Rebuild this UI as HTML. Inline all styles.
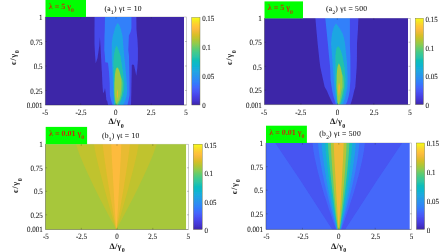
<!DOCTYPE html>
<html><head><meta charset="utf-8"><title>figure</title>
<style>html,body{margin:0;padding:0;background:#fff;overflow:hidden}body{width:448px;height:252px}svg{display:block}</style>
</head><body>
<svg width="448" height="252" viewBox="0 0 448 252" text-rendering="geometricPrecision" font-family='"Liberation Serif", serif'>
<defs>
<linearGradient id="par" x1="0" y1="0" x2="0" y2="1"><stop offset="0.00" stop-color="#f9fb15"/><stop offset="0.04" stop-color="#f6e426"/><stop offset="0.08" stop-color="#fecd32"/><stop offset="0.12" stop-color="#febe3c"/><stop offset="0.15" stop-color="#f3ba39"/><stop offset="0.20" stop-color="#d9be28"/><stop offset="0.25" stop-color="#b5c532"/><stop offset="0.30" stop-color="#8fcb4e"/><stop offset="0.35" stop-color="#63cc6e"/><stop offset="0.40" stop-color="#40ca8d"/><stop offset="0.45" stop-color="#2cc4a6"/><stop offset="0.50" stop-color="#09bdbd"/><stop offset="0.55" stop-color="#0db5d0"/><stop offset="0.60" stop-color="#1da9e0"/><stop offset="0.65" stop-color="#259be8"/><stop offset="0.70" stop-color="#2d8cf3"/><stop offset="0.75" stop-color="#327cfc"/><stop offset="0.80" stop-color="#4367fd"/><stop offset="0.85" stop-color="#4854f5"/><stop offset="0.90" stop-color="#4742e6"/><stop offset="0.95" stop-color="#4434d0"/><stop offset="1.00" stop-color="#3e26a8"/></linearGradient>
<filter id="bl" x="-5%" y="-5%" width="110%" height="110%"><feGaussianBlur stdDeviation="0.45"/></filter>
<filter id="bl2" x="-5%" y="-5%" width="110%" height="110%"><feGaussianBlur stdDeviation="0.6 0.3"/></filter>
<clipPath id="cp0"><rect x="45.4" y="17.0" width="138.6" height="88.0"/></clipPath>
<clipPath id="cp1"><rect x="264.5" y="18.3" width="143.5" height="86.3"/></clipPath>
<clipPath id="cp2"><rect x="45.5" y="144.2" width="140.6" height="85.3"/></clipPath>
<clipPath id="cp3"><rect x="266.0" y="143.0" width="143.7" height="86.4"/></clipPath>
</defs>
<rect x="0.0" y="0.0" width="448.0" height="252.0" fill="#ffffff" />
<rect x="45.4" y="17.0" width="141.2" height="88.0" fill="#ffffff" stroke="#9a9a9a" stroke-width="0.5"/>
<g clip-path="url(#cp0)"><g filter="url(#bl)">
<rect x="43.4" y="15.0" width="140.9" height="92.0" fill="#3e26a8" />
<polygon points="94.6,15.0 94.5,30.0 94.5,44.0 95.0,54.0 95.7,63.2 97.5,57.9 99.3,46.0 99.9,37.2 100.5,46.0 101.1,57.9 101.7,69.8 101.9,72.0 102.4,84.0 103.1,93.2 104.2,91.5 105.0,88.0 105.7,93.0 106.4,100.0 107.2,101.0 108.3,106.0 131.0,106.0 131.3,93.0 131.7,72.0 131.8,65.0 132.6,64.5 134.0,65.0 134.9,69.0 136.3,75.8 137.3,68.0 137.9,60.0 137.9,48.0 137.5,40.0 136.5,30.0 136.3,15.0" fill="#4549eb"/>
<polygon points="105.0,15.0 104.8,28.3 104.7,32.0 104.5,35.4 104.3,50.0 104.9,56.0 105.2,62.2 108.0,62.7 109.0,72.0 109.7,83.0 109.9,95.0 111.0,100.0 112.8,106.0 127.2,106.0 128.6,100.0 129.5,95.0 129.5,83.0 129.3,72.0 129.1,62.7 129.1,62.2 129.0,56.0 128.3,50.0 128.9,35.4 130.6,32.0 131.4,28.3 131.4,15.0" fill="#3280fa"/>
<polygon points="117.7,23.0 116.3,25.0 115.0,28.0 114.0,32.1 112.8,36.0 111.8,43.0 111.8,56.0 112.0,63.0 112.5,72.0 112.9,83.0 113.2,90.0 113.5,95.0 113.8,100.0 114.3,106.0 122.8,106.0 125.5,100.0 126.8,95.0 127.2,90.0 126.8,83.0 125.8,72.0 125.0,63.0 124.2,56.0 123.1,43.0 122.5,36.0 121.5,32.1 120.5,28.0 119.2,25.0 117.7,23.0" fill="#1ea6e2"/>
<polygon points="116.6,45.6 115.4,48.0 114.5,52.0 113.8,56.0 113.4,63.0 113.6,72.0 114.0,83.0 114.0,90.0 114.1,95.0 114.3,100.0 114.7,106.0 118.5,106.0 121.5,100.0 123.1,95.0 124.2,90.0 124.4,83.0 123.0,72.0 121.5,63.0 120.5,56.0 119.2,52.0 117.8,48.0 116.6,45.6" fill="#23c1aa"/>
<polygon points="119.5,74.0 115.5,79.0 114.5,83.0 114.4,90.0 114.5,95.0 114.9,100.0 116.0,105.5 117.3,105.5 120.3,100.0 121.7,95.0 122.5,90.0 122.7,83.0 122.0,79.0 119.5,74.0" fill="#5fcb76"/>
<polygon points="117.2,67.3 116.3,68.5 115.7,70.0 115.0,74.0 114.7,79.0 114.6,83.0 114.6,90.0 114.8,95.0 115.3,100.0 116.1,104.2 116.3,104.2 119.2,100.0 120.4,95.0 121.0,90.0 121.4,83.0 121.1,79.0 120.2,74.0 119.0,70.0 118.2,68.5 117.2,67.3" fill="#a0ca42"/>
<polygon points="117.4,89.0 116.9,92.0 116.9,96.0 117.4,99.0 117.9,96.0 118.0,92.0" fill="#e8b82d"/>
</g></g>
<rect x="264.5" y="18.3" width="145.7" height="86.3" fill="#ffffff" stroke="#9a9a9a" stroke-width="0.5"/>
<g clip-path="url(#cp1)"><g filter="url(#bl)">
<rect x="262.5" y="16.3" width="145.8" height="90.3" fill="#3e26a8" />
<polygon points="315.2,16.0 315.4,18.3 316.4,30.0 317.7,44.0 319.4,60.0 320.3,67.0 323.1,80.0 324.7,87.0 326.9,90.7 329.1,96.0 331.7,101.4 334.2,106.0 349.9,106.0 351.5,101.4 353.0,96.0 354.2,90.7 355.3,87.0 355.8,80.0 356.7,67.0 356.9,60.0 357.0,44.0 357.9,30.0 358.4,18.3 358.7,16.0" fill="#4549eb"/>
<polygon points="325.1,16.0 325.3,18.3 327.9,44.0 329.0,56.0 330.1,67.0 330.6,80.0 331.7,87.0 332.2,90.7 333.4,96.0 334.9,101.4 336.4,106.0 345.0,106.0 347.2,101.4 348.7,96.0 349.7,90.7 349.9,87.0 350.4,80.0 350.4,67.0 350.3,56.0 349.9,44.0 349.9,18.3 349.9,16.0" fill="#3280fa"/>
<polygon points="336.0,23.4 334.4,26.0 333.5,28.0 332.2,33.1 331.5,38.0 331.1,44.0 332.4,60.0 332.8,67.0 333.8,80.0 334.4,87.0 334.6,90.7 335.4,96.0 336.5,101.4 337.5,106.0 342.3,106.0 344.0,101.4 345.6,96.0 346.7,90.7 347.4,87.0 347.7,80.0 347.2,67.0 346.7,60.0 345.1,44.0 344.0,38.0 342.4,33.1 339.5,28.0 338.0,26.0 336.0,23.4" fill="#1ea6e2"/>
<polygon points="338.1,45.9 336.6,48.0 335.9,51.0 335.4,56.1 335.5,67.0 335.5,80.0 336.0,87.0 336.1,90.7 336.5,96.0 337.0,101.4 337.8,106.0 340.0,106.0 341.9,101.4 343.4,96.0 344.5,90.7 345.1,87.0 345.6,80.0 344.5,67.0 342.4,56.1 341.0,51.0 339.6,48.0 338.1,45.9" fill="#23c1aa"/>
<polygon points="340.5,70.0 337.5,76.0 336.6,82.0 336.5,87.0 336.7,90.7 337.0,96.0 337.4,101.4 338.0,105.5 339.0,105.5 340.7,101.4 342.0,96.0 343.0,90.7 343.8,87.0 343.8,82.0 343.2,76.0 340.5,70.0" fill="#5fcb76"/>
<polygon points="338.9,63.2 337.7,66.0 337.1,70.0 336.7,76.1 336.7,87.0 337.0,90.7 337.3,96.0 337.7,101.4 338.1,104.1 338.3,104.1 339.6,101.4 340.5,96.0 341.3,90.7 342.4,87.0 342.1,76.1 341.3,70.0 340.2,66.0 338.9,63.2" fill="#a0ca42"/>
<polygon points="339.0,82.5 338.3,86.0 338.2,92.0 338.9,96.3 339.7,92.0 340.2,88.0 339.9,85.0" fill="#e8b82d"/>
</g></g>
<rect x="45.5" y="144.2" width="143.1" height="85.3" fill="#ffffff" stroke="#9a9a9a" stroke-width="0.5"/>
<g clip-path="url(#cp2)"><g filter="url(#bl)">
<rect x="43.5" y="142.2" width="142.9" height="89.3" fill="#a7c73b" />
<polygon points="70.1,133.6 75.9,144.2 79.6,154.8 84.1,165.5 88.9,176.1 94.0,186.8 99.3,197.4 104.8,208.0 110.4,218.7 116.1,229.3 116.5,229.3 122.2,218.7 127.8,208.0 133.3,197.4 138.6,186.8 143.7,176.1 148.5,165.5 153.0,154.8 156.7,144.2 162.5,133.6" fill="#c0c32e"/>
<polygon points="90.7,133.6 93.9,144.2 95.9,154.8 98.4,165.5 101.1,176.1 103.9,186.8 106.8,197.4 109.8,208.0 112.9,218.7 116.1,229.3 116.5,229.3 119.7,218.7 122.8,208.0 125.8,197.4 128.7,186.8 131.5,176.1 134.2,165.5 136.7,154.8 138.7,144.2 141.9,133.6" fill="#d5bf29"/>
<polygon points="100.7,133.6 102.6,144.2 103.9,154.8 105.4,165.5 107.0,176.1 108.7,186.8 110.5,197.4 112.3,208.0 114.2,218.7 116.1,229.3 116.5,229.3 118.4,218.7 120.3,208.0 122.1,197.4 123.9,186.8 125.6,176.1 127.2,165.5 128.7,154.8 130.0,144.2 131.9,133.6" fill="#e9bb30"/>
<polygon points="110.6,133.6 111.3,144.2 111.7,154.8 112.3,165.5 112.9,176.1 113.5,186.8 114.1,197.4 114.7,208.0 115.4,218.7 116.1,229.3 116.5,229.3 117.2,218.7 117.9,208.0 118.5,197.4 119.1,186.8 119.7,176.1 120.3,165.5 120.9,154.8 121.3,144.2 122.0,133.6" fill="#fdbb3e"/>
</g></g>
<rect x="266.0" y="143.0" width="145.6" height="86.4" fill="#ffffff" stroke="#9a9a9a" stroke-width="0.5"/>
<g clip-path="url(#cp3)"><g filter="url(#bl)">
<rect x="264.0" y="141.0" width="146.0" height="90.4" fill="#4468fa" />
<polygon points="273.3,140.0 275.4,143.2 300.1,180.0 332.2,229.4 333.7,232.0 343.7,232.0 345.2,229.4 377.3,180.0 402.0,143.2 404.1,140.0" fill="#4654f2"/>
<g filter="url(#bl2)">
<polygon points="310.0,135.8 312.6,143.0 313.4,150.2 314.7,157.4 316.2,164.6 317.9,171.8 319.8,179.0 321.8,186.2 323.9,193.4 326.2,200.6 328.5,207.8 331.0,215.0 333.5,222.2 336.1,229.4 341.3,229.4 343.9,222.2 346.4,215.0 348.9,207.8 351.2,200.6 353.5,193.4 355.6,186.2 357.6,179.0 359.5,171.8 361.2,164.6 362.7,157.4 364.0,150.2 364.8,143.0 367.4,135.8" fill="#406bfb"/>
<polygon points="315.9,135.8 318.0,143.0 318.7,150.2 319.7,157.4 320.9,164.6 322.2,171.8 323.7,179.0 325.3,186.2 327.0,193.4 328.8,200.6 330.6,207.8 332.6,215.0 334.6,222.2 336.6,229.4 340.8,229.4 342.8,222.2 344.8,215.0 346.8,207.8 348.6,200.6 350.4,193.4 352.1,186.2 353.7,179.0 355.2,171.8 356.5,164.6 357.7,157.4 358.7,150.2 359.4,143.0 361.5,135.8" fill="#3086f7"/>
<polygon points="319.9,135.8 321.6,143.0 322.1,150.2 323.0,157.4 324.0,164.6 325.1,171.8 326.3,179.0 327.6,186.2 329.0,193.4 330.5,200.6 332.0,207.8 333.6,215.0 335.3,222.2 337.0,229.4 340.4,229.4 342.1,222.2 343.8,215.0 345.4,207.8 346.9,200.6 348.4,193.4 349.8,186.2 351.1,179.0 352.3,171.8 353.4,164.6 354.4,157.4 355.3,150.2 355.8,143.0 357.5,135.8" fill="#1ea5e3"/>
<polygon points="323.8,135.8 325.2,143.0 325.6,150.2 326.3,157.4 327.1,164.6 328.0,171.8 328.9,179.0 330.0,186.2 331.1,193.4 332.2,200.6 333.4,207.8 334.7,215.0 336.0,222.2 337.3,229.4 340.1,229.4 341.4,222.2 342.7,215.0 344.0,207.8 345.2,200.6 346.3,193.4 347.4,186.2 348.5,179.0 349.4,171.8 350.3,164.6 351.1,157.4 351.8,150.2 352.2,143.0 353.6,135.8" fill="#14bdbe"/>
<polygon points="326.9,135.8 328.0,143.0 328.3,150.2 328.9,157.4 329.5,164.6 330.2,171.8 331.0,179.0 331.8,186.2 332.7,193.4 333.6,200.6 334.5,207.8 335.5,215.0 336.6,222.2 337.6,229.4 339.8,229.4 340.8,222.2 341.9,215.0 342.9,207.8 343.8,200.6 344.7,193.4 345.6,186.2 346.4,179.0 347.2,171.8 347.9,164.6 348.5,157.4 349.1,150.2 349.4,143.0 350.5,135.8" fill="#5acb78"/>
<polygon points="330.1,135.8 330.9,143.0 331.1,150.2 331.5,157.4 332.0,164.6 332.5,171.8 333.1,179.0 333.7,186.2 334.3,193.4 335.0,200.6 335.7,207.8 336.4,215.0 337.1,222.2 337.9,229.4 339.5,229.4 340.3,222.2 341.0,215.0 341.7,207.8 342.4,200.6 343.1,193.4 343.7,186.2 344.3,179.0 344.9,171.8 345.4,164.6 345.9,157.4 346.3,150.2 346.5,143.0 347.3,135.8" fill="#b2c537"/>
<polygon points="333.2,135.8 333.7,143.0 334.0,150.2 334.3,157.4 334.7,164.6 335.1,171.8 335.5,179.0 335.9,186.2 336.3,193.4 336.7,200.6 337.2,207.8 337.6,215.0 338.1,222.2 338.6,229.4 338.8,229.4 339.3,222.2 339.8,215.0 340.2,207.8 340.7,200.6 341.1,193.4 341.5,186.2 341.9,179.0 342.3,171.8 342.7,164.6 343.1,157.4 343.4,150.2 343.7,143.0 344.2,135.8" fill="#f0ba34"/>
</g>
</g></g>
<g stroke="#262626" stroke-width="0.5" stroke-opacity="0.55" fill="none">
<path d="M45.4 17.0V105.0H186.6"/>
<path d="M80.7 105.0v-1.6M80.7 17.0v1.6M116.0 105.0v-1.6M116.0 17.0v1.6M151.3 105.0v-1.6M151.3 17.0v1.6M45.4 41.5h1.6M186.6 41.5h-1.6M45.4 66.0h1.6M186.6 66.0h-1.6M45.4 90.5h1.6M186.6 90.5h-1.6"/>
</g>
<g stroke="#262626" stroke-width="0.5" stroke-opacity="0.55" fill="none">
<path d="M264.5 18.3V104.6H410.2"/>
<path d="M300.9 104.6v-1.6M300.9 18.3v1.6M337.3 104.6v-1.6M337.3 18.3v1.6M373.8 104.6v-1.6M373.8 18.3v1.6M264.5 42.2h1.6M410.2 42.2h-1.6M264.5 66.3h1.6M410.2 66.3h-1.6M264.5 90.2h1.6M410.2 90.2h-1.6"/>
</g>
<g stroke="#262626" stroke-width="0.5" stroke-opacity="0.55" fill="none">
<path d="M45.5 144.2V229.5H188.6"/>
<path d="M81.3 229.5v-1.6M81.3 144.2v1.6M117.0 229.5v-1.6M117.0 144.2v1.6M152.8 229.5v-1.6M152.8 144.2v1.6M45.5 167.8h1.6M188.6 167.8h-1.6M45.5 191.3h1.6M188.6 191.3h-1.6M45.5 214.8h1.6M188.6 214.8h-1.6"/>
</g>
<g stroke="#262626" stroke-width="0.5" stroke-opacity="0.55" fill="none">
<path d="M266.0 143.0V229.4H411.6"/>
<path d="M302.4 229.4v-1.6M302.4 143.0v1.6M338.8 229.4v-1.6M338.8 143.0v1.6M375.2 229.4v-1.6M375.2 143.0v1.6M266.0 166.7h1.6M411.6 166.7h-1.6M266.0 190.2h1.6M411.6 190.2h-1.6M266.0 213.8h1.6M411.6 213.8h-1.6"/>
</g>
<rect x="191.8" y="17.5" width="8.2" height="87.5" fill="url(#par)" stroke="#6b6b3a" stroke-width="0.4" filter="url(#bl)"/>
<text transform="translate(202.2 20.9) scale(1 1.15)" font-size="6.9" text-anchor="start" font-weight="normal" fill="#111111"  stroke="#111111" stroke-width="0.06">0.15</text>
<text transform="translate(202.2 50.1) scale(1 1.15)" font-size="6.9" text-anchor="start" font-weight="normal" fill="#111111"  stroke="#111111" stroke-width="0.06">0.1</text>
<text transform="translate(202.2 79.2) scale(1 1.15)" font-size="6.9" text-anchor="start" font-weight="normal" fill="#111111"  stroke="#111111" stroke-width="0.06">0.05</text>
<text transform="translate(202.2 108.4) scale(1 1.15)" font-size="6.9" text-anchor="start" font-weight="normal" fill="#111111"  stroke="#111111" stroke-width="0.06">0</text>
<rect x="415.4" y="18.3" width="8.0" height="86.3" fill="url(#par)" stroke="#6b6b3a" stroke-width="0.4" filter="url(#bl)"/>
<text transform="translate(425.6 21.7) scale(1 1.15)" font-size="6.9" text-anchor="start" font-weight="normal" fill="#111111"  stroke="#111111" stroke-width="0.06">0.15</text>
<text transform="translate(425.6 50.5) scale(1 1.15)" font-size="6.9" text-anchor="start" font-weight="normal" fill="#111111"  stroke="#111111" stroke-width="0.06">0.1</text>
<text transform="translate(425.6 79.2) scale(1 1.15)" font-size="6.9" text-anchor="start" font-weight="normal" fill="#111111"  stroke="#111111" stroke-width="0.06">0.05</text>
<text transform="translate(425.6 108.0) scale(1 1.15)" font-size="6.9" text-anchor="start" font-weight="normal" fill="#111111"  stroke="#111111" stroke-width="0.06">0</text>
<rect x="193.3" y="144.2" width="8.9" height="85.3" fill="url(#par)" stroke="#6b6b3a" stroke-width="0.4" filter="url(#bl)"/>
<text transform="translate(204.4 147.6) scale(1 1.15)" font-size="6.9" text-anchor="start" font-weight="normal" fill="#111111"  stroke="#111111" stroke-width="0.06">0.15</text>
<text transform="translate(204.4 176.0) scale(1 1.15)" font-size="6.9" text-anchor="start" font-weight="normal" fill="#111111"  stroke="#111111" stroke-width="0.06">0.1</text>
<text transform="translate(204.4 204.5) scale(1 1.15)" font-size="6.9" text-anchor="start" font-weight="normal" fill="#111111"  stroke="#111111" stroke-width="0.06">0.05</text>
<text transform="translate(204.4 232.9) scale(1 1.15)" font-size="6.9" text-anchor="start" font-weight="normal" fill="#111111"  stroke="#111111" stroke-width="0.06">0</text>
<rect x="416.4" y="143.0" width="8.2" height="86.4" fill="url(#par)" stroke="#6b6b3a" stroke-width="0.4" filter="url(#bl)"/>
<text transform="translate(426.8 146.4) scale(1 1.15)" font-size="6.9" text-anchor="start" font-weight="normal" fill="#111111"  stroke="#111111" stroke-width="0.06">0.15</text>
<text transform="translate(426.8 175.2) scale(1 1.15)" font-size="6.9" text-anchor="start" font-weight="normal" fill="#111111"  stroke="#111111" stroke-width="0.06">0.1</text>
<text transform="translate(426.8 204.0) scale(1 1.15)" font-size="6.9" text-anchor="start" font-weight="normal" fill="#111111"  stroke="#111111" stroke-width="0.06">0.05</text>
<text transform="translate(426.8 232.8) scale(1 1.15)" font-size="6.9" text-anchor="start" font-weight="normal" fill="#111111"  stroke="#111111" stroke-width="0.06">0</text>
<rect x="45.5" y="-1.0" width="40.5" height="18.0" fill="#00ff00" />
<text x="48.8" y="8.8" font-size="8.0" text-anchor="start" font-weight="bold" fill="#c4300a" >λ = 5 γ<tspan dy="3.4" font-size="5.8">0</tspan></text>
<rect x="264.5" y="1.4" width="38.5" height="16.9" fill="#00ff00" />
<text x="267.8" y="10.1" font-size="8.0" text-anchor="start" font-weight="bold" fill="#c4300a" >λ = 5 γ<tspan dy="3.4" font-size="5.8">0</tspan></text>
<rect x="45.7" y="126.9" width="41.4" height="17.3" fill="#00ff00" />
<text x="49.0" y="136.0" font-size="8.0" text-anchor="start" font-weight="bold" fill="#c4300a" >λ = 0.01 γ<tspan dy="3.4" font-size="5.8">0</tspan></text>
<rect x="266.0" y="125.7" width="40.9" height="17.3" fill="#00ff00" />
<text x="269.3" y="134.8" font-size="8.0" text-anchor="start" font-weight="bold" fill="#c4300a" >λ = 0.01 γ<tspan dy="3.4" font-size="5.8">0</tspan></text>
<text transform="translate(42.6 20.1) scale(1 1.15)" font-size="7.0" text-anchor="end" font-weight="normal" fill="#111111"  stroke="#111111" stroke-width="0.06">1</text>
<text transform="translate(42.6 44.6) scale(1 1.15)" font-size="7.0" text-anchor="end" font-weight="normal" fill="#111111"  stroke="#111111" stroke-width="0.06">0.75</text>
<text transform="translate(42.6 69.2) scale(1 1.15)" font-size="7.0" text-anchor="end" font-weight="normal" fill="#111111"  stroke="#111111" stroke-width="0.06">0.5</text>
<text transform="translate(42.6 93.7) scale(1 1.15)" font-size="7.0" text-anchor="end" font-weight="normal" fill="#111111"  stroke="#111111" stroke-width="0.06">0.25</text>
<text transform="translate(42.6 107.8) scale(1 1.15)" font-size="7.0" text-anchor="end" font-weight="normal" fill="#111111"  stroke="#111111" stroke-width="0.06">0.001</text>
<text transform="translate(261.7 21.1) scale(1 1.15)" font-size="7.0" text-anchor="end" font-weight="normal" fill="#111111"  stroke="#111111" stroke-width="0.06">1</text>
<text transform="translate(261.7 45.2) scale(1 1.15)" font-size="7.0" text-anchor="end" font-weight="normal" fill="#111111"  stroke="#111111" stroke-width="0.06">0.75</text>
<text transform="translate(261.7 69.5) scale(1 1.15)" font-size="7.0" text-anchor="end" font-weight="normal" fill="#111111"  stroke="#111111" stroke-width="0.06">0.5</text>
<text transform="translate(261.7 93.3) scale(1 1.15)" font-size="7.0" text-anchor="end" font-weight="normal" fill="#111111"  stroke="#111111" stroke-width="0.06">0.25</text>
<text transform="translate(261.7 107.8) scale(1 1.15)" font-size="7.0" text-anchor="end" font-weight="normal" fill="#111111"  stroke="#111111" stroke-width="0.06">0.001</text>
<text transform="translate(42.8 147.3) scale(1 1.15)" font-size="7.0" text-anchor="end" font-weight="normal" fill="#111111"  stroke="#111111" stroke-width="0.06">1</text>
<text transform="translate(42.8 170.8) scale(1 1.15)" font-size="7.0" text-anchor="end" font-weight="normal" fill="#111111"  stroke="#111111" stroke-width="0.06">0.75</text>
<text transform="translate(42.8 194.4) scale(1 1.15)" font-size="7.0" text-anchor="end" font-weight="normal" fill="#111111"  stroke="#111111" stroke-width="0.06">0.5</text>
<text transform="translate(42.8 217.9) scale(1 1.15)" font-size="7.0" text-anchor="end" font-weight="normal" fill="#111111"  stroke="#111111" stroke-width="0.06">0.25</text>
<text transform="translate(42.8 232.2) scale(1 1.15)" font-size="7.0" text-anchor="end" font-weight="normal" fill="#111111"  stroke="#111111" stroke-width="0.06">0.001</text>
<text transform="translate(263.0 146.2) scale(1 1.15)" font-size="7.0" text-anchor="end" font-weight="normal" fill="#111111"  stroke="#111111" stroke-width="0.06">1</text>
<text transform="translate(263.0 169.8) scale(1 1.15)" font-size="7.0" text-anchor="end" font-weight="normal" fill="#111111"  stroke="#111111" stroke-width="0.06">0.75</text>
<text transform="translate(263.0 193.2) scale(1 1.15)" font-size="7.0" text-anchor="end" font-weight="normal" fill="#111111"  stroke="#111111" stroke-width="0.06">0.5</text>
<text transform="translate(263.0 216.9) scale(1 1.15)" font-size="7.0" text-anchor="end" font-weight="normal" fill="#111111"  stroke="#111111" stroke-width="0.06">0.25</text>
<text transform="translate(263.0 232.1) scale(1 1.15)" font-size="7.0" text-anchor="end" font-weight="normal" fill="#111111"  stroke="#111111" stroke-width="0.06">0.001</text>
<text transform="translate(45.2 114.5) scale(1 1.15)" font-size="7.0" text-anchor="middle" font-weight="normal" fill="#111111"  stroke="#111111" stroke-width="0.06">-5</text>
<text transform="translate(81.0 114.5) scale(1 1.15)" font-size="7.0" text-anchor="middle" font-weight="normal" fill="#111111"  stroke="#111111" stroke-width="0.06">-2.5</text>
<text transform="translate(115.8 114.5) scale(1 1.15)" font-size="7.0" text-anchor="middle" font-weight="normal" fill="#111111"  stroke="#111111" stroke-width="0.06">0</text>
<text transform="translate(151.0 114.5) scale(1 1.15)" font-size="7.0" text-anchor="middle" font-weight="normal" fill="#111111"  stroke="#111111" stroke-width="0.06">2.5</text>
<text transform="translate(186.0 114.5) scale(1 1.15)" font-size="7.0" text-anchor="middle" font-weight="normal" fill="#111111"  stroke="#111111" stroke-width="0.06">5</text>
<text transform="translate(264.0 114.5) scale(1 1.15)" font-size="7.0" text-anchor="middle" font-weight="normal" fill="#111111"  stroke="#111111" stroke-width="0.06">-5</text>
<text transform="translate(300.7 114.5) scale(1 1.15)" font-size="7.0" text-anchor="middle" font-weight="normal" fill="#111111"  stroke="#111111" stroke-width="0.06">-2.5</text>
<text transform="translate(337.4 114.5) scale(1 1.15)" font-size="7.0" text-anchor="middle" font-weight="normal" fill="#111111"  stroke="#111111" stroke-width="0.06">0</text>
<text transform="translate(374.0 114.5) scale(1 1.15)" font-size="7.0" text-anchor="middle" font-weight="normal" fill="#111111"  stroke="#111111" stroke-width="0.06">2.5</text>
<text transform="translate(410.0 114.5) scale(1 1.15)" font-size="7.0" text-anchor="middle" font-weight="normal" fill="#111111"  stroke="#111111" stroke-width="0.06">5</text>
<text transform="translate(45.8 238.8) scale(1 1.15)" font-size="7.0" text-anchor="middle" font-weight="normal" fill="#111111"  stroke="#111111" stroke-width="0.06">-5</text>
<text transform="translate(81.5 238.8) scale(1 1.15)" font-size="7.0" text-anchor="middle" font-weight="normal" fill="#111111"  stroke="#111111" stroke-width="0.06">-2.5</text>
<text transform="translate(117.0 238.8) scale(1 1.15)" font-size="7.0" text-anchor="middle" font-weight="normal" fill="#111111"  stroke="#111111" stroke-width="0.06">0</text>
<text transform="translate(152.5 238.8) scale(1 1.15)" font-size="7.0" text-anchor="middle" font-weight="normal" fill="#111111"  stroke="#111111" stroke-width="0.06">2.5</text>
<text transform="translate(188.3 238.8) scale(1 1.15)" font-size="7.0" text-anchor="middle" font-weight="normal" fill="#111111"  stroke="#111111" stroke-width="0.06">5</text>
<text transform="translate(266.5 238.8) scale(1 1.15)" font-size="7.0" text-anchor="middle" font-weight="normal" fill="#111111"  stroke="#111111" stroke-width="0.06">-5</text>
<text transform="translate(303.0 238.8) scale(1 1.15)" font-size="7.0" text-anchor="middle" font-weight="normal" fill="#111111"  stroke="#111111" stroke-width="0.06">-2.5</text>
<text transform="translate(338.8 238.8) scale(1 1.15)" font-size="7.0" text-anchor="middle" font-weight="normal" fill="#111111"  stroke="#111111" stroke-width="0.06">0</text>
<text transform="translate(375.7 238.8) scale(1 1.15)" font-size="7.0" text-anchor="middle" font-weight="normal" fill="#111111"  stroke="#111111" stroke-width="0.06">2.5</text>
<text transform="translate(411.5 238.8) scale(1 1.15)" font-size="7.0" text-anchor="middle" font-weight="normal" fill="#111111"  stroke="#111111" stroke-width="0.06">5</text>
<text x="104.6" y="10.9" font-size="7.6" text-anchor="start" font-weight="normal" fill="#111111" letter-spacing="0.25" stroke="#111111" stroke-width="0.06">(a<tspan dy="3.1" font-size="5.4">1</tspan><tspan dy="-3.1">) γt = 10</tspan></text>
<text x="326.0" y="10.6" font-size="7.6" text-anchor="start" font-weight="normal" fill="#111111" letter-spacing="0.25" stroke="#111111" stroke-width="0.06">(a<tspan dy="3.1" font-size="5.4">2</tspan><tspan dy="-3.1">) γt = 500</tspan></text>
<text x="102.0" y="137.8" font-size="7.6" text-anchor="start" font-weight="normal" fill="#111111" letter-spacing="0.25" stroke="#111111" stroke-width="0.06">(b<tspan dy="3.1" font-size="5.4">1</tspan><tspan dy="-3.1">) γt = 10</tspan></text>
<text x="319.3" y="135.7" font-size="7.6" text-anchor="start" font-weight="normal" fill="#111111" letter-spacing="0.25" stroke="#111111" stroke-width="0.06">(b<tspan dy="3.1" font-size="5.4">2</tspan><tspan dy="-3.1">) γt = 500</tspan></text>
<text x="116.3" y="124.3" font-size="8.4" text-anchor="middle" font-weight="bold" fill="#111111" letter-spacing="0.3">Δ/γ<tspan dy="3.5" font-size="6.0">0</tspan></text>
<text x="337.8" y="124.3" font-size="8.4" text-anchor="middle" font-weight="bold" fill="#111111" letter-spacing="0.3">Δ/γ<tspan dy="3.5" font-size="6.0">0</tspan></text>
<text x="117.3" y="248.8" font-size="8.4" text-anchor="middle" font-weight="bold" fill="#111111" letter-spacing="0.3">Δ/γ<tspan dy="3.5" font-size="6.0">0</tspan></text>
<text x="338.8" y="248.8" font-size="8.4" text-anchor="middle" font-weight="bold" fill="#111111" letter-spacing="0.3">Δ/γ<tspan dy="3.5" font-size="6.0">0</tspan></text>
<text x="15.8" y="57.2" font-size="8.4" text-anchor="middle" font-weight="bold" fill="#2a2a2a" letter-spacing="0.7" transform="rotate(-90 15.8 57.2)">ϵ/γ<tspan dy="3.5" font-size="6.0">0</tspan></text>
<text x="232.2" y="57.3" font-size="8.4" text-anchor="middle" font-weight="bold" fill="#2a2a2a" letter-spacing="0.7" transform="rotate(-90 232.2 57.3)">ϵ/γ<tspan dy="3.5" font-size="6.0">0</tspan></text>
<text x="18.3" y="185.3" font-size="8.4" text-anchor="middle" font-weight="bold" fill="#2a2a2a" letter-spacing="0.7" transform="rotate(-90 18.3 185.3)">ϵ/γ<tspan dy="3.5" font-size="6.0">0</tspan></text>
<text x="237.0" y="186.4" font-size="8.4" text-anchor="middle" font-weight="bold" fill="#2a2a2a" letter-spacing="0.7" transform="rotate(-90 237.0 186.4)">ϵ/γ<tspan dy="3.5" font-size="6.0">0</tspan></text>
</svg>
</body></html>
